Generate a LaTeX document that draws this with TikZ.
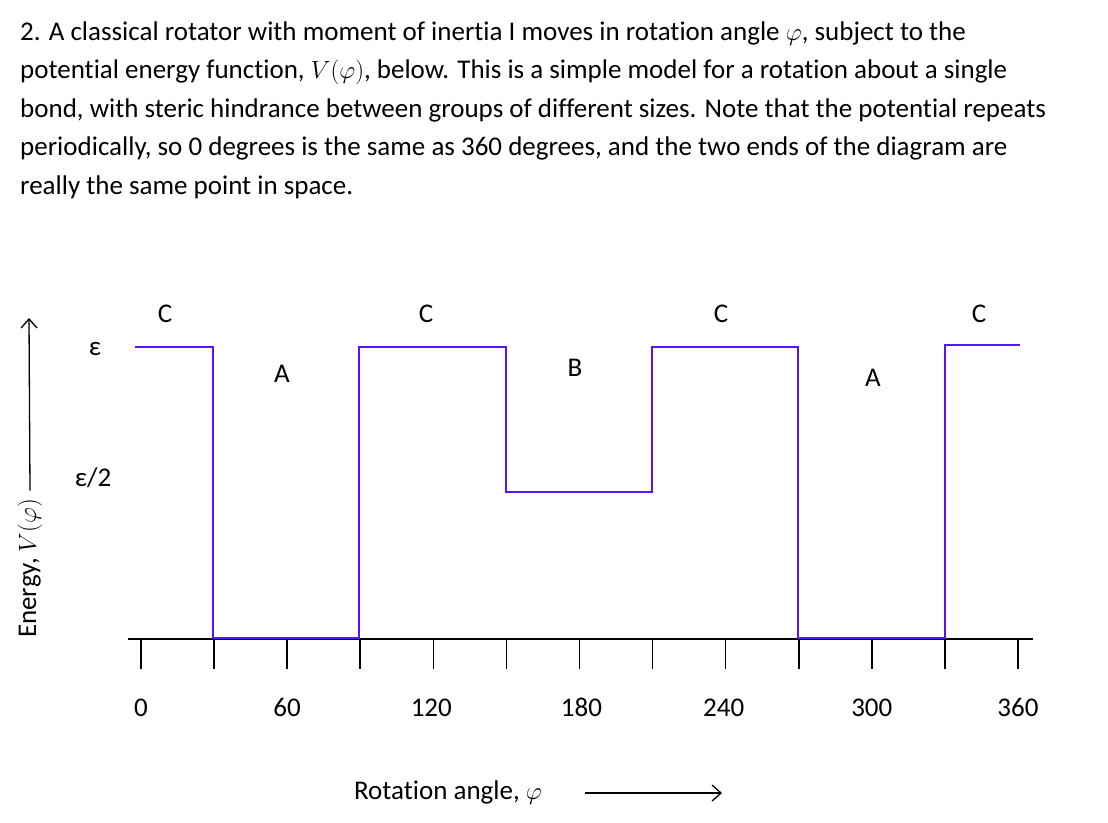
\documentclass[tikz,border=0pt]{standalone}
\usepackage{fontspec}
\setmainfont{Carlito}[Ligatures={NoCommon}]
\usetikzlibrary{arrows.meta}
\definecolor{curve}{RGB}{85,20,250}
\begin{document}
\begin{tikzpicture}[x=1pt,y=-1pt,
  txt/.style={font=\fontsize{27}{30}\selectfont,inner sep=0pt},
  para/.style={txt,anchor=base west},
  lab/.style={txt,anchor=base},
  tick/.style={line width=1.6pt},
  pot/.style={curve,line width=1.8pt},
  arr/.style={-{Straight Barb[length=9pt,width=16pt]},line width=1.3pt}]
\useasboundingbox (0,0) rectangle (1108,822);
\node[para] (l1) at (20,40) {2. A classical rotator with moment of inertia I moves in rotation angle $\varphi$, subject to the};
\node[para] (l2) at (20,78.5) {potential energy function, $V(\varphi)$, below. This is a simple model for a rotation about a single};
\node[para] (l3) at (20,117) {bond, with steric hindrance between groups of different sizes. Note that the potential repeats};
\node[para] (l4) at (20,155.5) {periodically, so 0 degrees is the same as 360 degrees, and the two ends of the diagram are};
\node[para] (l5) at (20,194) {really the same point in space.};
% axis
\coordinate (ax0) at (128,639);
\coordinate (ax1) at (1033,639);
\draw[tick] (ax0) -- (ax1);
\foreach \i in {0,...,12}{
  \coordinate (t\i) at ({141+73.08*\i},639);
  \draw[tick] (t\i) -- ++(0,30);
}
\foreach \i/\v/\d in {0/0/0,2/60/0,4/120/-2,6/180/2,8/240/-2,10/300/0,12/360/0}{
  \node[lab] (n\i) at ({141+73.08*\i+\d},716) {\v};
}
% potential
\coordinate (p0) at (135,347);
\draw[pot] (p0) -- (213,347) -- (213,638) -- (359,638) -- (359,347) -- (506,347) -- (506,492) -- (652,492) -- (652,347) -- (798,347) -- (798,638) -- (945,638) -- (945,345) -- (1020,345);
% labels
\node[lab] (c1) at (165,322) {C};
\node[lab] (c2) at (426,322) {C};
\node[lab] (c3) at (721,322) {C};
\node[lab] (c4) at (979,322) {C};
\node[lab] (a1) at (282,382) {A};
\node[lab] (a2) at (873,386) {A};
\node[lab] (b1) at (575,376) {B};
\node[lab] (e1) at (95,355) {ε};
\node[lab] (e2) at (93,486) {ε/2};
% y label
\node[txt,rotate=90,anchor=west] (yl) at (30,638) {Energy, $V(\varphi)$};
\coordinate (ya) at (29,318);
\draw[arr] (yl.east) ++(0,-8) -- (ya);
% x label
\node[lab] (xl) at (448,799) {Rotation angle, $\varphi$};
\coordinate (xs) at (585,793);
\coordinate (xa) at (722,793);
\draw[arr] (xs) -- (xa);
\end{tikzpicture}
\end{document}
